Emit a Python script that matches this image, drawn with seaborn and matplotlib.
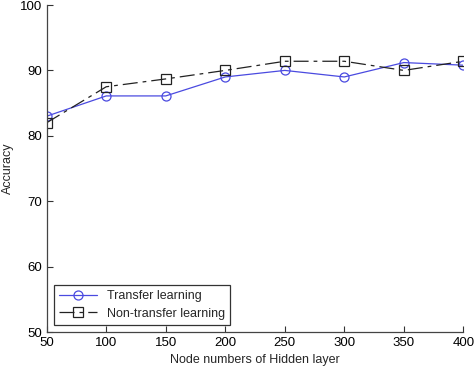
import numpy as np
import matplotlib
matplotlib.use('Agg')
import matplotlib.pyplot as plt
import seaborn as sns

# data
nodes = [50, 100, 150, 200, 250, 300, 350, 400]
transfer = [83.0, 86.1, 86.1, 89.0, 90.0, 89.0, 91.2, 90.8]
non_transfer = [82.0, 87.5, 88.7, 90.0, 91.4, 91.4, 90.0, 91.4]

sns.set_style('ticks')
plt.rcParams['font.family'] = ['Liberation Sans', 'DejaVu Sans']

fig = plt.figure(figsize=(4.74, 3.71), dpi=100)
ax = fig.add_axes([0.0985, 0.105, 0.879, 0.8815])

sns.lineplot(x=nodes, y=transfer, ax=ax, color='#4a4ae0', lw=0.9,
             marker='o', markersize=6.5, markerfacecolor='none',
             markeredgecolor='#4a4ae0', markeredgewidth=0.9,
             label='Transfer learning')
sns.lineplot(x=nodes, y=non_transfer, ax=ax, color='#222222', lw=0.9,
             marker='s', markersize=6.5, markerfacecolor='none',
             markeredgecolor='#222222', markeredgewidth=0.9,
             label='Non-transfer learning')
ax.lines[1].set_dashes([12, 4, 3, 4])

ax.set_xlim(50, 400)
ax.set_ylim(50, 100)
ax.set_xticks(range(50, 401, 50))
ax.set_yticks(range(50, 101, 10))
ax.tick_params(direction='in', length=4, labelsize=9.5, colors='#333333',
               labelcolor='black', width=0.8)
for s in ['top', 'right']:
    ax.spines[s].set_visible(False)
for s in ['left', 'bottom']:
    ax.spines[s].set_color('#444444')
    ax.spines[s].set_linewidth(0.9)

ax.set_xlabel('Node numbers of Hidden layer', fontsize=9)
ax.set_ylabel('Accuracy', fontsize=9)

leg = ax.legend(loc='lower left', fontsize=9, frameon=True, fancybox=False,
                edgecolor='black', handlelength=3, borderaxespad=0.6,
                labelspacing=0.45)
leg.get_frame().set_linewidth(0.9)

plt.savefig('out.png', dpi=100)
